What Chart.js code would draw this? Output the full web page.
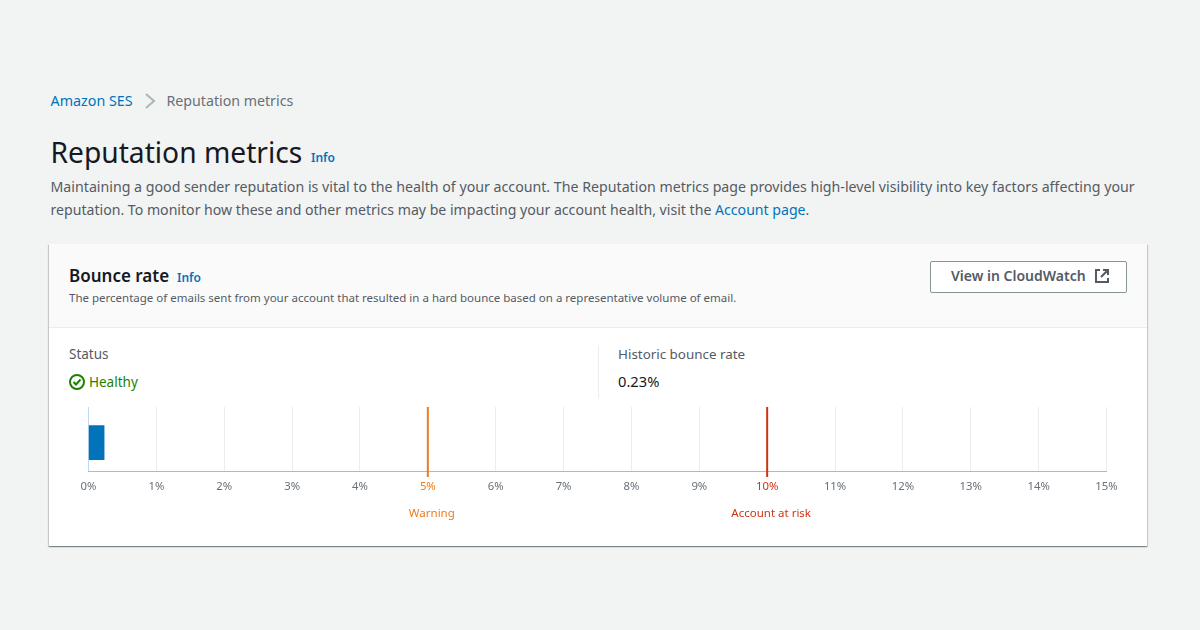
<!DOCTYPE html>
<html>
<head>
<meta charset="utf-8">
<title>Reputation metrics</title>
<script src="https://cdn.jsdelivr.net/npm/chart.js@4"></script>
<style>
  html, body { margin: 0; padding: 0; }
  body { width: 1200px; height: 630px; background: #f2f3f3; position: relative; overflow: hidden;
         font-family: "Noto Sans", sans-serif; color: #545b64; }
  .t { position: absolute; white-space: nowrap; line-height: 20px; }
  .link { color: #0073bb; }
  #card { position: absolute; left: 49px; top: 244px; width: 1098px; height: 302px; background: #fff;
          box-shadow: 0 1px 1px 0 rgba(0,28,36,.3), 1px 1px 1px 0 rgba(0,28,36,.15), -1px 1px 1px 0 rgba(0,28,36,.15); }
  #cardHead { position: absolute; left: 49px; top: 244px; width: 1098px; height: 84px; background: #fafafa; border-bottom: 1px solid #eaeded; box-sizing: border-box; }
  #divider { position: absolute; left: 598px; top: 345px; width: 1px; height: 53px; background: #eaeded; }
  #btn { position: absolute; left: 930px; top: 261px; width: 197px; height: 32px; box-sizing: border-box; border: 1px solid #879596; border-radius: 2px; background: #fff; }
  #myChart { position: absolute; left: 50px; top: 400px; }
  svg { position: absolute; }
</style>
</head>
<body>
  <div class="t link" style="left:50.5px;top:91px;font-size:14.3px">Amazon SES</div>
  <svg style="left:143px;top:92px" width="14" height="18" viewBox="0 0 14 18"><path d="M3 2 L11 9 L3 16" fill="none" stroke="#aab7b8" stroke-width="2"/></svg>
  <div class="t" style="left:166.5px;top:91px;font-size:14.2px;color:#687078">Reputation metrics</div>

  <div class="t" style="left:50.5px;top:136px;font-size:28.2px;line-height:32px;color:#16191f">Reputation metrics</div>
  <div class="t link" style="left:311px;top:148px;font-size:12px;font-weight:600">Info</div>
  <div class="t" style="left:50.5px;top:177px;font-size:14.2px">Maintaining a good sender reputation is vital to the health of your account. The Reputation metrics page provides high-level visibility into key factors affecting your</div>
  <div class="t" style="left:50.5px;top:200px;font-size:14.12px">reputation. To monitor how these and other metrics may be impacting your account health, visit the <span class="link">Account page</span>.</div>

  <div id="card"></div>
  <div id="cardHead"></div>
  <div class="t" style="left:69px;top:266px;font-size:17px;font-weight:600;color:#16191f">Bounce rate</div>
  <div class="t link" style="left:177px;top:268px;font-size:12px;font-weight:600">Info</div>
  <div class="t" style="left:69px;top:288px;font-size:11.5px">The percentage of emails sent from your account that resulted in a hard bounce based on a representative volume of email.</div>
  <div id="btn"></div>
  <div class="t" style="left:951px;top:266px;font-size:14px;font-weight:600">View in CloudWatch</div>
  <svg style="left:1094px;top:268px" width="16" height="16" viewBox="0 0 16 16"><path d="M6 2 H2 V14 H14 V10 M9 2 H14 V7 M14 2 L7 9" fill="none" stroke="#545b64" stroke-width="2"/></svg>

  <div class="t" style="left:69px;top:344px;font-size:13.5px">Status</div>
  <svg style="left:69px;top:374px" width="16" height="16" viewBox="0 0 16 16"><circle cx="8" cy="8" r="7" fill="none" stroke="#1d8102" stroke-width="2"/><path d="M4.5 8 L7 10.5 L11.5 5.5" fill="none" stroke="#1d8102" stroke-width="2"/></svg>
  <div class="t" style="left:89px;top:372px;font-size:13.5px;color:#1d8102">Healthy</div>
  <div id="divider"></div>
  <div class="t" style="left:618px;top:344px;font-size:13.4px">Historic bounce rate</div>
  <div class="t" style="left:618px;top:371px;font-size:14.7px;color:#16191f">0.23%</div>

  <canvas id="myChart" width="1096" height="140"></canvas>

<script>
//Chart data
const categories = ["Historic bounce rate"];
const bounceValues = [0.23];
const tickValues = [0, 1, 2, 3, 4, 5, 6, 7, 8, 9, 10, 11, 12, 13, 14, 15];
const thresholdValues = [5, 10];
const thresholdLabels = ["Warning", "Account at risk"];
const thresholdColors = ["#ee7a1c", "#d13212"];

const fontFamily = '"Noto Sans", sans-serif';

//Draws the warning and risk lines with their captions
const thresholdPlugin = {
  id: "thresholds",
  afterDatasetsDraw(chart) {
    const c = chart.ctx;
    const x = chart.scales.x;
    const area = chart.chartArea;
    thresholdValues.forEach((v, i) => {
      const px = x.getPixelForValue(v);
      c.save();
      c.strokeStyle = thresholdColors[i];
      c.lineWidth = 2;
      c.beginPath();
      c.moveTo(px, area.top);
      c.lineTo(px, area.bottom + 6);
      c.stroke();
      c.fillStyle = thresholdColors[i];
      c.font = "11.5px " + fontFamily;
      c.textAlign = "center";
      c.textBaseline = "middle";
      c.fillText(thresholdLabels[i], px + 4, area.bottom + 43);
      c.restore();
    });
  }
};

const ctx = document.getElementById("myChart");
const myChart = new Chart(ctx, {
  type: "bar",
  data: {
    labels: categories,
    datasets: [{
      label: categories[0],
      data: bounceValues.map((v, i) => ({ x: v, y: i })),
      backgroundColor: "#0073bb",
      barThickness: 34
    }]
  },
  plugins: [thresholdPlugin],
  options: {
    indexAxis: "y",
    responsive: false,
    animation: false,
    devicePixelRatio: 1,
    layout: { padding: { left: 38.5, right: 39.5, top: 7, bottom: 0 } },
    plugins: { legend: { display: false }, tooltip: { enabled: false } },
    scales: {
      y: { type: "linear", display: false, min: -0.415, max: 0.585 },
      x: {
        type: "linear",
        min: 0,
        max: 15,
        afterBuildTicks: scale => { scale.ticks = tickValues.map(v => ({ value: v })); },
        afterFit: scale => { scale.height = 69; },
        border: { color: "#b4b8bb", width: 1 },
        grid: {
          color: c => (c.tick && c.tick.value === 0 ? "#c4d8ea" : "#eaeded"),
          lineWidth: 1,
          tickLength: 0,
          drawTicks: false
        },
        ticks: {
          autoSkip: false,
          maxRotation: 0,
          padding: 9,
          font: { family: fontFamily, size: 11.3 },
          color: c => {
            const i = thresholdValues.indexOf(c.tick.value);
            return i >= 0 ? thresholdColors[i] : "#687078";
          },
          callback: v => v + "%"
        }
      }
    }
  }
});
</script>
</body>
</html>
